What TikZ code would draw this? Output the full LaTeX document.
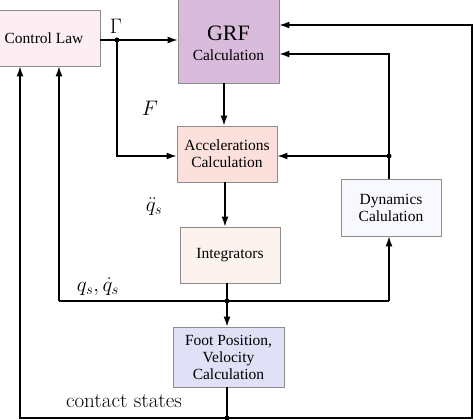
\RequirePackage{fix-cm}
\documentclass[tikz,border=0pt]{standalone}
\usepackage{fontspec}
\setmainfont{Liberation Serif}
\newfontfamily\lmfont{Latin Modern Roman}
\usetikzlibrary{arrows.meta}
\definecolor{clfill}{HTML}{FCEEF3}
\definecolor{grffill}{HTML}{D9BCDB}
\definecolor{accfill}{HTML}{FBE0DC}
\definecolor{intfill}{HTML}{FDF3EE}
\definecolor{dynfill}{HTML}{F8F8FF}
\definecolor{footfill}{HTML}{E0E1F7}
\definecolor{boxborder}{HTML}{8C8C8C}
\tikzset{
  blk/.style={draw=boxborder, line width=0.9pt, rectangle, align=center, inner sep=0pt,
    font=\fontsize{15.5}{17}\selectfont},
  conn/.style={line width=1.3pt, draw=black},
  arr/.style={conn, -{Latex[length=10pt,width=7pt]}},
  dotn/.style={circle, fill=black, inner sep=0pt, minimum size=5pt},
  mlab/.style={font=\fontsize{21}{24}\selectfont, inner sep=0pt},
}
\begin{document}
\begin{tikzpicture}[x=1pt,y=-1pt]
\useasboundingbox (0,0) rectangle (474,420);
\fill[white] (0,0) rectangle (474,420);
% blocks
\node[blk, fill=clfill, minimum width=112pt, minimum height=56pt] (cl) at (44,38) {Control Law};
\node[blk, fill=grffill, minimum width=101pt, minimum height=86pt] (grf) at (228.5,40) {};
\node[align=center, inner sep=0pt, font=\fontsize{15.5}{17}\selectfont] (grft) at (228.5,43)
  {{\fontsize{22}{24}\selectfont GRF}\\[3pt]Calculation};
\node[blk, fill=accfill, minimum width=100pt, minimum height=56pt] (acc) at (227,154) {Accelerations\\Calculation};
\node[blk, fill=intfill, minimum width=100pt, minimum height=56pt] (int) at (230,255) {Integrators};
\node[blk, fill=dynfill, minimum width=100pt, minimum height=57pt] (dyn) at (391,207.5) {Dynamics\\Calulation};
\node[blk, fill=footfill, minimum width=111pt, minimum height=60pt] (foot) at (228.5,357) {Foot Position,\\Velocity\\Calculation};
% junctions
\node[dotn] (j1) at (117,40) {};
\node[dotn] (j2) at (389,156) {};
\node[dotn] (j3) at (227,301) {};
\node[dotn] (j4) at (227,418) {};
\coordinate (l1) at (59,301);
\coordinate (r1) at (389,301);
\coordinate (l2) at (20,418);
\coordinate (r2) at (472,418);
\coordinate (r2t) at (472,25);
\coordinate (j2t) at (389,54);
% connectors
\draw[arr] (cl.east |- j1) -- (grf.west |- j1);
\draw[arr] (j1.center) |- (acc.west |- j2);
\draw[arr] (grf.south -| 224,0) -- (acc.north -| 224,0);
\draw[arr] (acc.south -| 225,0) -- (int.north -| 225,0);
\draw[conn] (int.south -| j3) -- (j3.center);
\draw[arr] (j3.center) -- (foot.north -| j3);
\draw[conn] (l1) -- (r1);
\draw[arr] (l1) -- (cl.south -| l1);
\draw[arr] (r1) -- (dyn.south -| r1);
\draw[conn] (dyn.north -| j2) -- (j2.center);
\draw[arr] (j2.center) -- (acc.east |- j2);
\draw[arr] (j2.center) -- (j2t) -- (grf.east |- j2t);
\draw[conn] (foot.south -| j4) -- (j4.center);
\draw[arr] (j4.center) -- (l2) -- (cl.south -| l2);
\draw[arr] (j4.center) -- (r2) -- (r2t) -- (grf.east |- r2t);
% labels
\node[mlab] (lg) at (116,26) {$\Gamma$};
\node[mlab] (lf) at (150,108) {$F$};
\node[mlab] (lqdd) at (154,207) {$\ddot q_s$};
\node[mlab] (lq) at (98,287) {$q_s,\dot q_s$};
\node[inner sep=0pt, font=\fontsize{21}{24}\lmfont] (lc) at (124,401) {contact states};
\end{tikzpicture}
\end{document}
